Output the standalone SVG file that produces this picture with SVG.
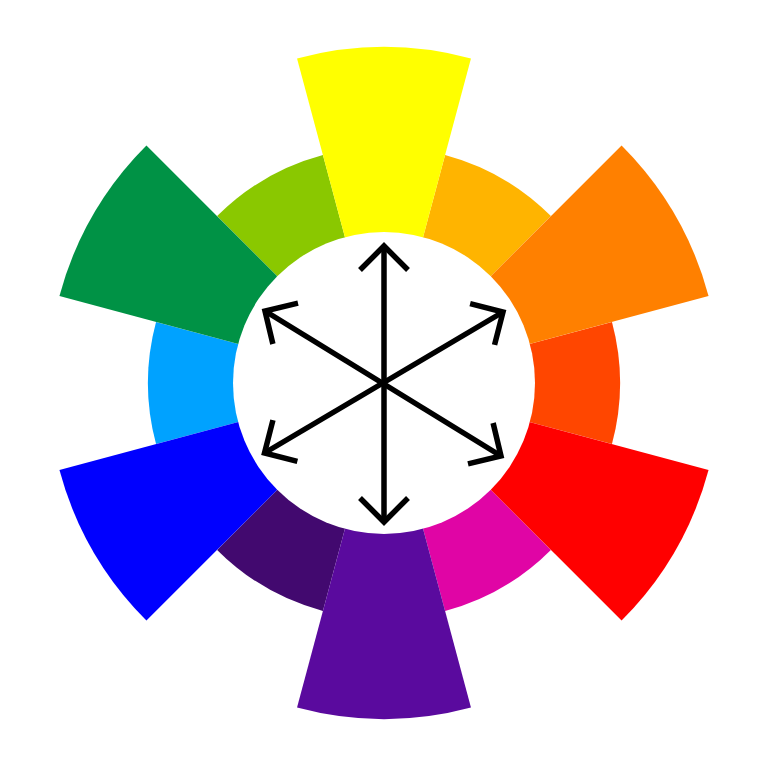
<svg xmlns="http://www.w3.org/2000/svg" width="768" height="768" viewBox="0 0 768 768">
<defs>
<style>
.arrow{fill:none;stroke:#000;stroke-width:5.5}
</style>
<marker id="head" markerUnits="userSpaceOnUse" viewBox="-30 -30 40 60" refX="0" refY="0" markerWidth="40" markerHeight="60" orient="auto-start-reverse" overflow="visible">
<path d="M-24,-24 L0,0 L-24,24" fill="none" stroke="#000" stroke-width="5.5"/>
</marker>
</defs>
<rect width="768" height="768" fill="#fff"/>
<g id="wheel">
<g id="ring">
<path id="yellow-orange" fill="#FFB400" d="M384,383 L445.08,155.04 A236,236 0 0 1 550.88,216.12 Z"/>
<path id="red-orange" fill="#FF4600" d="M384,383 L611.96,321.92 A236,236 0 0 1 611.96,444.08 Z"/>
<path id="red-violet" fill="#E005A5" d="M384,383 L550.88,549.88 A236,236 0 0 1 445.08,610.96 Z"/>
<path id="blue-violet" fill="#42096F" d="M384,383 L322.92,610.96 A236,236 0 0 1 217.12,549.88 Z"/>
<path id="blue-green" fill="#00A2FF" d="M384,383 L156.04,444.08 A236,236 0 0 1 156.04,321.92 Z"/>
<path id="yellow-green" fill="#8AC800" d="M384,383 L217.12,216.12 A236,236 0 0 1 322.92,155.04 Z"/>
</g>
<g id="primary-secondary">
<path id="yellow" fill="#FFFF00" d="M384,383 L297.04,58.45 A336,336 0 0 1 470.96,58.45 Z"/>
<path id="orange" fill="#FF8000" d="M384,383 L621.59,145.41 A336,336 0 0 1 708.55,296.04 Z"/>
<path id="red" fill="#FF0000" d="M384,383 L708.55,469.96 A336,336 0 0 1 621.59,620.59 Z"/>
<path id="violet" fill="#5A0A9E" d="M384,383 L470.96,707.55 A336,336 0 0 1 297.04,707.55 Z"/>
<path id="blue" fill="#0000FF" d="M384,383 L146.41,620.59 A336,336 0 0 1 59.45,469.96 Z"/>
<path id="green" fill="#009245" d="M384,383 L59.45,296.04 A336,336 0 0 1 146.41,145.41 Z"/>
</g>
<circle id="center" cx="384" cy="383" r="151" fill="#fff"/>
</g>
<g id="connectors">
<line class="arrow" x1="384" y1="246" x2="384" y2="522" marker-start="url(#head)" marker-end="url(#head)"/>
<line class="arrow" x1="264.5" y1="453" x2="503" y2="312" marker-start="url(#head)" marker-end="url(#head)"/>
<line class="arrow" x1="265" y1="311" x2="501" y2="456" marker-start="url(#head)" marker-end="url(#head)"/>
</g>
</svg>
